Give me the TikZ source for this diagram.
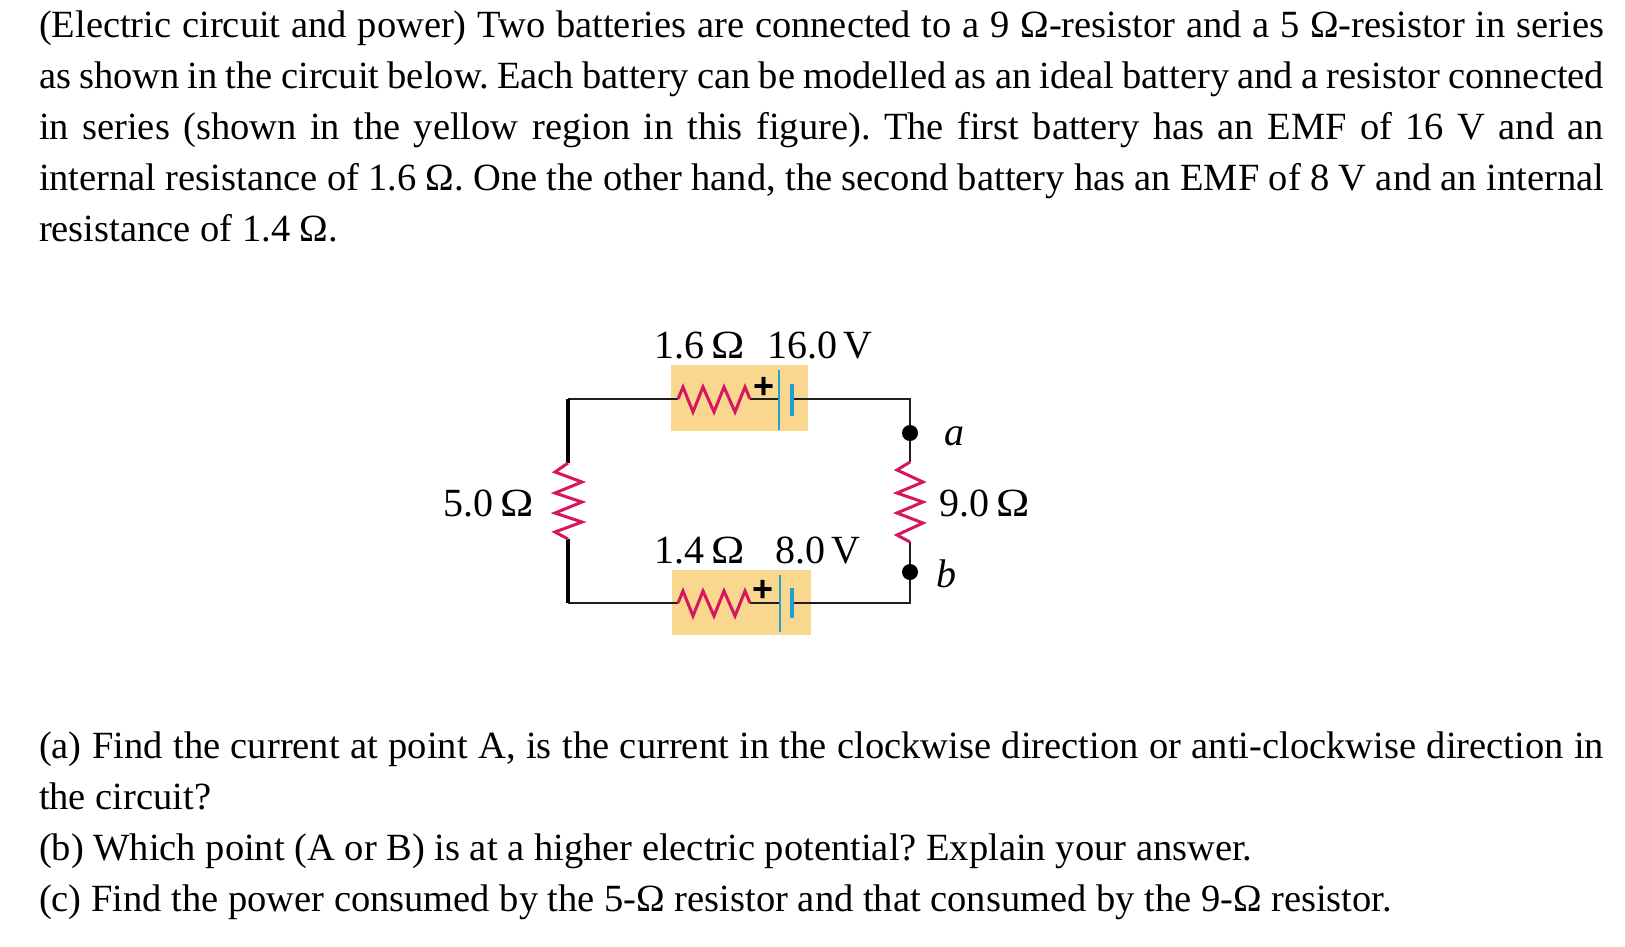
\documentclass[tikz,border=0pt]{standalone}
\usepackage{fontspec}
\setmainfont{Liberation Serif}
\newfontfamily\plusfont{Liberation Sans}
\frenchspacing
\definecolor{batt}{HTML}{FAD78F}
\definecolor{res}{HTML}{D6175F}
\definecolor{plate}{HTML}{1FA3CE}
\definecolor{wirec}{HTML}{1E1E1E}
\newcommand{\tl}[1]{\hbox to 1565pt{#1}}
\newcommand{\Om}{\hspace{7pt}\scalebox{1.12}[1]{Ω}}
\tikzset{
  line/.style={anchor=base west,inner sep=0pt,outer sep=0pt,font=\fontsize{38.5}{42}\selectfont},
  lab/.style={inner sep=0pt,outer sep=0pt,font=\fontsize{40}{44}\selectfont},
  wire/.style={draw=wirec,line width=2.6pt,line join=miter},
  heavy/.style={draw=black,line width=3.6pt,line join=miter},
  zig/.style={draw=res,line width=3pt,line join=miter},
  cell/.style={fill=batt,draw=none},
  longplate/.style={draw=plate,line width=2.6pt},
  shortplate/.style={draw=plate,line width=4pt},
  dot/.style={circle,fill=black,inner sep=0pt,minimum size=16pt},
  plus/.style={inner sep=0pt,font=\fontsize{36}{36}\plusfont\bfseries\selectfont}
}
\begin{document}
\begin{tikzpicture}[x=1pt,y=-1pt]
\useasboundingbox (0,0) rectangle (1625,946);
% problem text
\node[line] (l1) at (39,37) {\tl{(Electric circuit and power) Two batteries are connected to a 9 Ω-resistor and a 5 Ω-resistor in series}};
\node[line] (l2) at (39,88) {\tl{as shown in the circuit below. Each battery can be modelled as an ideal battery and a resistor connected}};
\node[line] (l3) at (39,139) {\tl{in series (shown in the yellow region in this figure). The first battery has an EMF of 16 V and an}};
\node[line] (l4) at (39,190) {\tl{internal resistance of 1.6 Ω. One the other hand, the second battery has an EMF of 8 V and an internal}};
\node[line] (l5) at (39,241) {resistance of 1.4 Ω.};
\node[line] (q1) at (39,758) {\tl{(a) Find the current at point A, is the current in the clockwise direction or anti-clockwise direction in}};
\node[line] (q2) at (39,809) {the circuit?};
\node[line] (q3) at (39,860) {(b) Which point (A or B) is at a higher electric potential? Explain your answer.};
\node[line] (q4) at (39,911) {(c) Find the power consumed by the 5-Ω resistor and that consumed by the 9-Ω resistor.};
% yellow regions
\fill[cell] (671,365) rectangle (808,431);
\fill[cell] (672,570) rectangle (811,635);
% junctions
\coordinate (tl) at (568,399);
\coordinate (tr) at (910,399);
\coordinate (bl) at (568,603);
\coordinate (br) at (910,603);
\coordinate (r1a) at (678,399);
\coordinate (r1b) at (750,399);
\coordinate (c1a) at (779,399);
\coordinate (c1b) at (792,399);
\coordinate (r2a) at (678,603);
\coordinate (r2b) at (750,603);
\coordinate (c2a) at (780,603);
\coordinate (c2b) at (792,603);
\coordinate (r5a) at (568,463);
\coordinate (r5b) at (568,539);
\coordinate (r9a) at (910,462);
\coordinate (r9b) at (910,542);
% wires
\draw[wire] (r1a) -- (tl);
\draw[heavy] (tl) -- (r5a);
\draw[wire] (r1b) -- (c1a);
\draw[wire] (c1b) -- (tr) -- (r9a);
\draw[wire] (r2a) -- (bl);
\draw[heavy] (bl) -- (r5b);
\draw[wire] (r2b) -- (c2a);
\draw[wire] (c2b) -- (br) -- (r9b);
% resistors
\draw[zig] (r1a) -- (683,387) -- (693,412) -- (703,387) -- (714,412) -- (724,387) -- (735,412) -- (745,387) -- (r1b);
\draw[zig] (r2a) -- (683,591) -- (693,616) -- (703,591) -- (714,616) -- (724,591) -- (735,616) -- (745,591) -- (r2b);
\draw[zig] (r5a) -- (555,472) -- (582,482) -- (555,493) -- (582,502) -- (555,513) -- (582,522) -- (555,532) -- (r5b);
\draw[zig] (r9a) -- (897,470) -- (923,482) -- (897,493) -- (923,502) -- (897,513) -- (923,523) -- (897,535) -- (r9b);
% batteries
\draw[longplate] (779,370) -- (c1a) -- (779,430);
\draw[shortplate] (792,384) -- (c1b) -- (792,416);
\draw[longplate] (780,575) -- (c2a) -- (780,632);
\draw[shortplate] (792,588) -- (c2b) -- (792,618);
\node[plus] (p1) at (764,388) {+};
\node[plus] (p2) at (763,591) {+};
% terminals
\node[dot] (a) at (910,433) {};
\node[dot] (b) at (910,572) {};
% labels
\node[lab,anchor=base west] (la) at (654,358.5) {1.6\Om};
\node[lab,anchor=base west] (lb) at (767,358.5) {16.0\,V};
\node[lab,anchor=base west] (lc) at (654,563.5) {1.4\Om};
\node[lab,anchor=base west] (ld) at (775,563.5) {8.0\,V};
\node[lab,anchor=base east] (le) at (534,516.5) {5.0\Om};
\node[lab,anchor=base west] (lf) at (939,516.5) {9.0\Om};
\node[lab,anchor=base] (na) at (954,445) {\itshape a};
\node[lab,anchor=base] (nb) at (946,587) {\itshape b};
\end{tikzpicture}
\end{document}
